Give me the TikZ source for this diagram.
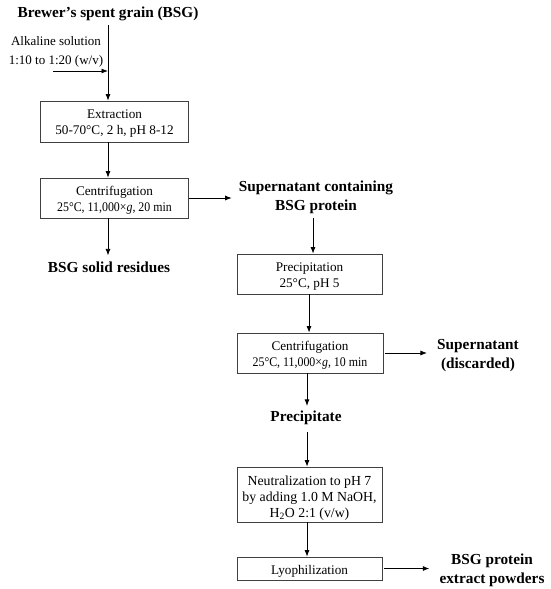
\documentclass[tikz,border=0pt]{standalone}
\usepackage{fontspec}
\setmainfont{Liberation Serif}
\usetikzlibrary{arrows.meta,calc}
\newcommand{\sq}[1]{\scalebox{0.9}[1]{#1}}
\begin{document}
\begin{tikzpicture}[x=1pt,y=-1pt,
 box/.style={draw=black!75, line width=0.8pt, minimum width=148pt, inner sep=0pt},
 boxtext/.style={align=center, font=\fontsize{13.2}{16}\selectfont, inner sep=0pt, yshift=-2.5pt},
 lbl/.style={align=center, font=\fontsize{15.3}{19}\selectfont\bfseries, inner sep=0pt},
 note/.style={align=center, font=\fontsize{13}{19}\selectfont, inner sep=0pt},
 arr/.style={-{Latex[length=6.5pt,width=5pt]}, line width=0.8pt}]
\useasboundingbox (0,0) rectangle (550,589);
\node[lbl] (title) at (108,14) {Brewer’s spent grain (BSG)};
\node[note] (alk) at (56,52) {Alkaline solution\\1:10 to 1:20 (w/v)};
\node[box, minimum height=41pt] (ext) at (114.5,121.5) {};
\node[boxtext] (extT) at (ext.center) {Extraction\\50-70°C, 2 h, pH 8-12};
\node[box, minimum height=40pt] (cen1) at (114.5,198) {};
\node[boxtext] (cen1T) at (cen1.center) {Centrifugation\\\sq{25°C, 11,000×\textit{g}, 20 min}};
\node[lbl] (resid) at (109,267) {BSG solid residues};
\node[lbl] (sup1) at (316,197) {Supernatant containing\\BSG protein};
\node[box, minimum width=145pt, minimum height=40pt] (prec) at (309.5,274) {};
\node[boxtext] (precT) at (prec.center) {Precipitation\\25°C, pH 5};
\node[box, minimum width=146pt, minimum height=40pt] (cen2) at (310,353) {};
\node[boxtext] (cen2T) at (cen2.center) {Centrifugation\\\sq{25°C, 11,000×\textit{g}, 10 min}};
\node[lbl] (sup2) at (478,356) {Supernatant\\(discarded)};
\node[lbl] (ppt) at (306,418) {Precipitate};
\node[box, minimum width=145pt, minimum height=55pt] (neu) at (309.5,494.5) {};
\node[boxtext, font=\fontsize{13.8}{16}\selectfont, yshift=-1.5pt] (neuT) at (neu.center) {Neutralization to pH 7\\by adding 1.0 M NaOH,\\H\textsubscript{2}O 2:1 (v/w)};
\node[box, minimum width=145pt, minimum height=23pt] (lyo) at (309.5,568.5) {};
\node[boxtext] (lyoT) at (lyo.center) {Lyophilization};
\node[lbl] (pow) at (492,570) {BSG protein\\extract powders};
\coordinate (a0) at (53,71);
\draw[arr] ([yshift=-4pt]title.south) -- (title.south |- ext.north);
\draw[arr] (a0) -- (a0 -| title.south);
\draw[arr] (ext.south -| title.south) -- (cen1.north -| title.south);
\draw[arr, shorten >=7pt] (cen1.east) -- (cen1.east -| sup1.west);
\draw[arr, shorten >=6pt] (cen1.south -| title.south) -- (resid.north -| title.south);
\draw[arr] ([xshift=-3pt,yshift=-4pt]sup1.south) -- ([xshift=-3pt]sup1.south |- prec.north);
\draw[arr] ([xshift=-0.5pt]prec.south) -- ([xshift=-0.5pt]prec.south |- cen2.north);
\draw[arr, shorten <=2pt, shorten >=10pt] (cen2.east) -- (cen2.east -| sup2.west);
\draw[arr, shorten >=5pt] ([xshift=-3pt]cen2.south) -- ([xshift=-3pt]cen2.south |- ppt.north);
\draw[arr] ([xshift=1pt,yshift=-7pt]ppt.south) -- ([xshift=1pt]ppt.south |- neu.north);
\draw[arr] ([xshift=-2.5pt]neu.south) -- ([xshift=-2.5pt]neu.south |- lyo.north);
\draw[arr, shorten <=2pt, shorten >=10pt] (lyo.east) -- (lyo.east -| pow.west);
\end{tikzpicture}
\end{document}
